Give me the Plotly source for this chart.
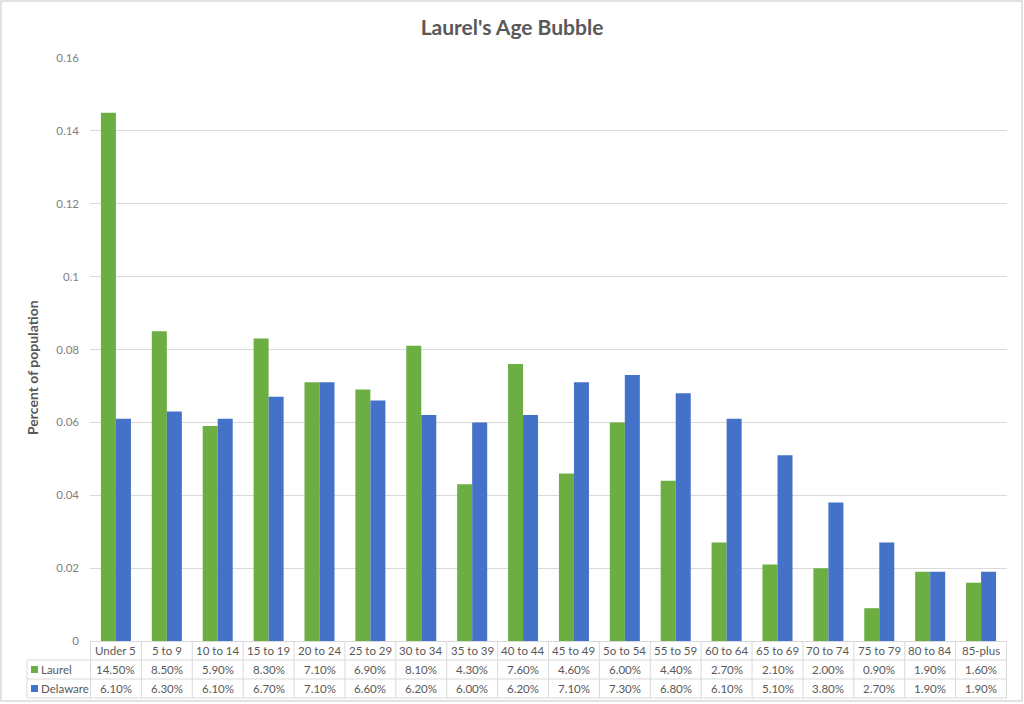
import plotly.graph_objects as go

categories = ["Under 5", "5 to 9", "10 to 14", "15 to 19", "20 to 24", "25 to 29",
              "30 to 34", "35 to 39", "40 to 44", "45 to 49", "5o to 54", "55 to 59",
              "60 to 64", "65 to 69", "70 to 74", "75 to 79", "80 to 84", "85-plus"]
laurel = [0.145, 0.085, 0.059, 0.083, 0.071, 0.069, 0.081, 0.043, 0.076, 0.046,
          0.060, 0.044, 0.027, 0.021, 0.020, 0.009, 0.019, 0.016]
delaware = [0.061, 0.063, 0.061, 0.067, 0.071, 0.066, 0.062, 0.060, 0.062, 0.071,
            0.073, 0.068, 0.061, 0.051, 0.038, 0.027, 0.019, 0.019]
series_names = ["Laurel", "Delaware"]
series_colors = ["#6cae42", "#4472c8"]

W, H = 1024, 704
ML, MR, MT, MB = 90, 17, 58, 63
PW = W - ML - MR
PH = H - MT - MB
ROW = 19

def px_x(px):
    return (px - ML) / PW

def px_y(py):
    return (H - MB - py) / PH

FONT = "Lato, 'Open Sans', sans-serif"
GRID = "#d9d9d9"
TXT = "#595959"

fig = go.Figure()
for name, vals, col in zip(series_names, [laurel, delaware], series_colors):
    fig.add_trace(go.Bar(x=categories, y=vals, name=name, marker=dict(color=col, line=dict(width=0))))

shapes = []
annotations = []
n = len(categories)
row_tops = [H - MB, H - MB + ROW, H - MB + 2 * ROW, H - MB + 3 * ROW]

for i in range(n + 1):
    shapes.append(dict(type="line", xref="x", yref="paper", x0=i - 0.5, x1=i - 0.5,
                       y0=px_y(row_tops[0]), y1=px_y(row_tops[3]),
                       line=dict(color=GRID, width=1)))
shapes.append(dict(type="line", xref="paper", yref="paper", x0=px_x(27), x1=px_x(27),
                   y0=px_y(row_tops[1]), y1=px_y(row_tops[3]), line=dict(color=GRID, width=1)))
for k in (1, 2, 3):
    shapes.append(dict(type="line", xref="paper", yref="paper", x0=px_x(27), x1=1,
                       y0=px_y(row_tops[k]), y1=px_y(row_tops[k]), line=dict(color=GRID, width=1)))
shapes.append(dict(type="rect", xref="paper", yref="paper", x0=px_x(1), x1=px_x(1022),
                   y0=px_y(701), y1=px_y(1), line=dict(color="#d9d9d9", width=1.5)))

TF = dict(size=11.5, color=TXT, family=FONT)
for c in categories:
    annotations.append(dict(x=c, xref="x", yref="paper", y=px_y(row_tops[0] + ROW / 2),
                            xanchor="center", yanchor="middle",
                            text=c, showarrow=False, font=TF))
for r, (name, vals, col) in enumerate(zip(series_names, [laurel, delaware], series_colors)):
    yc = px_y(row_tops[r + 1] + ROW / 2)
    for c, v in zip(categories, vals):
        annotations.append(dict(x=c, xref="x", yref="paper", y=yc, text=f"{v * 100:.2f}%",
                                xanchor="center", yanchor="middle",
                                showarrow=False, font=TF))
    shapes.append(dict(type="rect", xref="paper", yref="paper", x0=px_x(31), x1=px_x(38),
                       y0=yc - 3.5 / PH, y1=yc + 3.5 / PH, fillcolor=col, line=dict(width=0)))
    annotations.append(dict(x=px_x(39), xref="paper", yref="paper", y=yc, xanchor="left", yanchor="middle",
                            text=name, showarrow=False, font=TF))

annotations.append(dict(x=px_x(33), xref="paper", yref="paper", y=px_y(368), text="<b>Percent of population</b>",
                        xanchor="center", yanchor="middle",
                        textangle=-90, showarrow=False, font=dict(size=14, color=TXT, family=FONT)))

fig.update_layout(
    width=W, height=H,
    margin=dict(l=ML, r=MR, t=MT, b=MB),
    paper_bgcolor="white", plot_bgcolor="white",
    title=dict(text="<b>Laurel's Age Bubble</b>", x=0.5, xref="container", xanchor="center",
               y=1 - 28 / H, yanchor="middle",
               font=dict(size=21, color=TXT, family=FONT)),
    barmode="group", bargap=0.41, bargroupgap=0,
    showlegend=False,
    shapes=shapes, annotations=annotations,
    font=dict(family=FONT, color=TXT),
)
fig.update_xaxes(showticklabels=False, showgrid=False, showline=False, zeroline=False, ticks="")
fig.update_yaxes(range=[0, 0.16], dtick=0.02, showgrid=True, gridcolor=GRID, gridwidth=1,
                 zeroline=True, zerolinecolor=GRID, zerolinewidth=1, showline=False,
                 tickfont=dict(size=11.5, color="#7f7f7f", family=FONT), ticklabelstandoff=10)

fig.write_html("out.html")
